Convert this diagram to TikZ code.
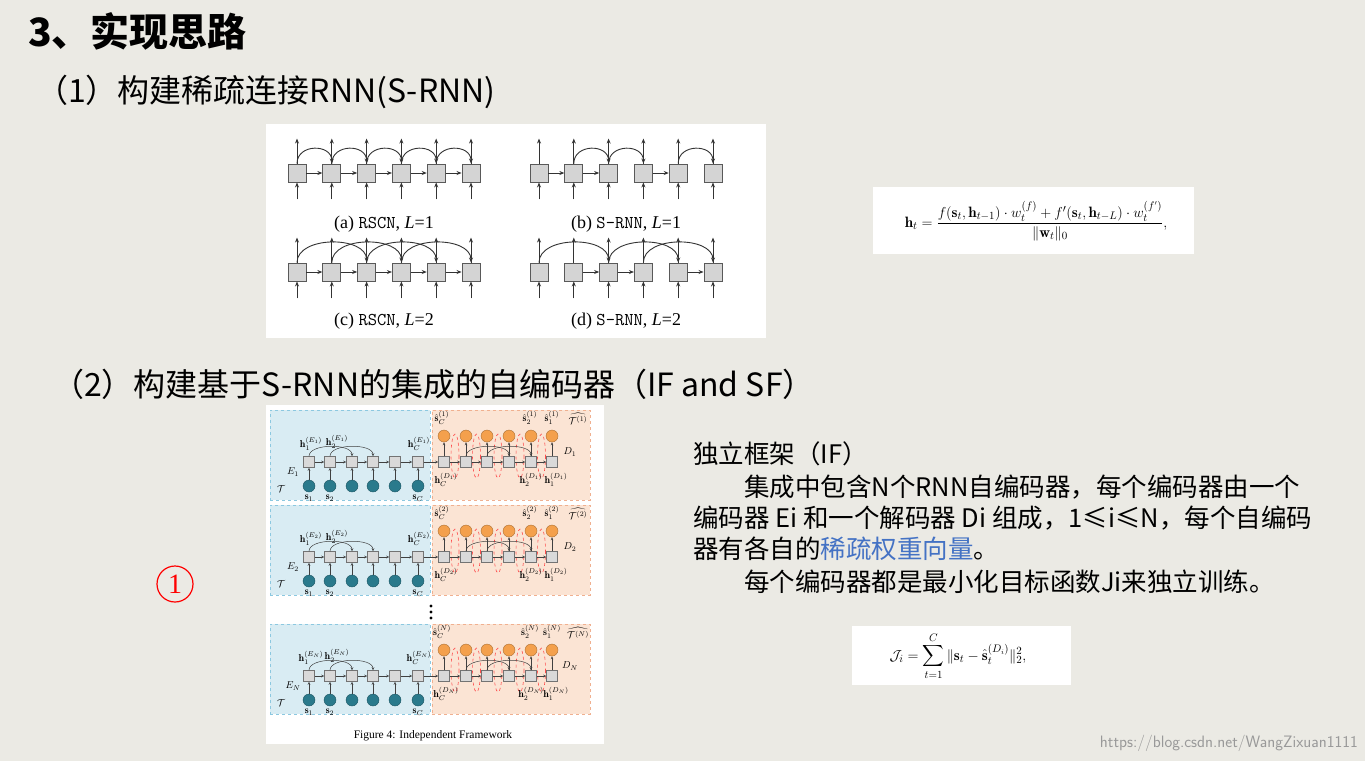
\documentclass[tikz,border=0pt]{standalone}
\usepackage{amsmath,amssymb}
\usepackage{fontspec}
\newfontfamily\cjk{Noto Sans CJK SC}
\newfontfamily\lser{Liberation Serif}
\usetikzlibrary{calc,arrows.meta}
\definecolor{bgc}{HTML}{EBEAE4}
\definecolor{teal2}{HTML}{2A7A8C}
\definecolor{org}{HTML}{F4A04C}
\definecolor{bluebg}{HTML}{D9ECF3}
\definecolor{bluebd}{HTML}{8CC8E0}
\definecolor{orgbg}{HTML}{FBE4D4}
\definecolor{orgbd}{HTML}{F0B090}
\definecolor{lnk}{HTML}{4472C4}
\tikzset{
 gbox/.style={draw=black!65,fill=black!17,minimum size=18pt,inner sep=0pt,line width=0.9pt},
 sbox/.style={draw=black!55,fill=black!15,minimum size=11pt,inner sep=0pt,line width=0.5pt},
 arr/.style={-{Stealth[length=5pt,width=4pt]},line width=0.9pt,black!80},
 sarr/.style={-{Stealth[length=3pt,width=2.5pt]},line width=0.5pt,black!75},
 tcirc/.style={circle,fill=teal2,draw=teal2!70!black,minimum size=12pt,inner sep=0pt},
 ocirc/.style={circle,fill=org,draw=org!70!black,minimum size=12pt,inner sep=0pt},
 lab/.style={font=\fontsize{10}{10}\selectfont,inner sep=0pt},
 cjkt/.style={font=\cjk\fontsize{25.5}{25.5}\selectfont,anchor=west,inner sep=0pt},
 captext/.style={font=\lser\fontsize{18}{18}\selectfont},
}
\newcommand\rnnpanel[6]{%
 \foreach \i in {1,...,6}{
  \node[gbox] (#1\i) at ({#2+34.8*(\i-1)},#3) {};
  \draw[arr] (#1\i.north) -- ++(0,-25);
  \draw[arr] ($(#1\i.south)+(0,17)$) -- (#1\i.south);
 }
 \foreach \a/\b in {#4} \draw[arr] (#1\a) -- (#1\b);
 \foreach \a/\b in {#5} \draw[arr] (#1\a.north) .. controls +(0,-#6) and +(0,-#6) .. (#1\b.north);
}
\newcommand\aerow[3]{%
\begin{scope}[shift={(0,#1)}]
 \node[draw=bluebd,dashed,fill=bluebg,minimum width=160pt,minimum height=90pt,anchor=north west] (bl#2) at (270,410) {};
 \node[draw=orgbd,dashed,fill=orgbg,minimum width=158pt,minimum height=90pt,anchor=north west] (or#2) at (432,410) {};
 \foreach \i/\x in {1/309,2/330,3/352,4/373,5/395,6/418}{
  \node[sbox] (e#2\i) at (\x,462) {};
  \node[tcirc] (s#2\i) at (\x,486) {};
  \draw[sarr] (s#2\i) -- (e#2\i);
 }
 \foreach \i/\x in {1/444,2/466,3/487,4/509,5/531,6/552}{
  \node[sbox] (d#2\i) at (\x,462) {};
  \node[ocirc] (o#2\i) at (\x,436) {};
  \draw[sarr] (d#2\i) -- (o#2\i);
 }
 \foreach \x in {455,476.5,498,520,541.5}
  \draw[red!70,dashed,line width=0.6pt] (\x,456) ellipse (4 and 22);
 \foreach \a/\b in {e#21/e#22,e#22/e#23,e#23/e#24,e#24/e#25,e#25/e#26,e#26/d#21,d#21/d#22,d#22/d#23,d#23/d#24,d#24/d#25,d#25/d#26}
  \draw[sarr] (\a) -- (\b);
 \foreach \a/\b in {e#21/e#23,e#22/e#24,d#22/d#24,d#23/d#25}
  \draw[sarr] (\a.north) .. controls +(0,-13) and +(0,-13) .. (\b.north);
 \node[lab] (la#2) at (311,444) {$\mathbf{h}_1^{(E_{#3})}$};
 \node[lab] (lb#2) at (337,442) {$\mathbf{h}_2^{(E_{#3})}$};
 \node[lab] (lc#2) at (419,444) {$\mathbf{h}_C^{(E_{#3})}$};
 \node[lab] (le#2) at (293,472) {$E_{#3}$};
 \node[lab] (lt#2) at (281,489) {$\mathcal{T}$};
 \node[lab] (ls1#2) at (309,498) {$\mathbf{s}_1$};
 \node[lab] (ls2#2) at (330,498) {$\mathbf{s}_2$};
 \node[lab] (lsc#2) at (418,498) {$\mathbf{s}_C$};
 \node[lab] (lo1#2) at (442,418) {$\hat{\mathbf{s}}_C^{(#3)}$};
 \node[lab] (lo2#2) at (530,418) {$\hat{\mathbf{s}}_2^{(#3)}$};
 \node[lab] (lo3#2) at (552,418) {$\hat{\mathbf{s}}_1^{(#3)}$};
 \node[lab] (lT#2) at (578,419) {$\widehat{\mathcal{T}^{(#3)}}$};
 \node[lab] (lD#2) at (570,452) {$D_{#3}$};
 \node[lab] (ld1#2) at (446,480) {$\mathbf{h}_C^{(D_{#3})}$};
 \node[lab] (ld2#2) at (531,480) {$\mathbf{h}_2^{(D_{#3})}$};
 \node[lab] (ld3#2) at (556,480) {$\mathbf{h}_1^{(D_{#3})}$};
\end{scope}}
\begin{document}
\begin{tikzpicture}[x=1pt,y=-1pt]
\fill[bgc] (0,0) rectangle (1365,761);
\useasboundingbox (0,0) rectangle (1365,761);
\node[anchor=west,inner sep=0pt,font=\cjk\bfseries\fontsize{39}{39}\selectfont] (title) at (28,31) {3、实现思路};
\node[anchor=west,inner sep=0pt,font=\cjk\fontsize{32}{32}\selectfont] (sub1) at (36,92) {（1）构建稀疏连接RNN(S-RNN)};
\node[anchor=west,inner sep=0pt,font=\cjk\fontsize{32}{32}\selectfont] (sub2) at (52,384) {（2）构建基于S-RNN的集成的自编码器（IF and SF）};
% panel 1
\fill[white] (266,124) rectangle (766,338);
\rnnpanel{pa}{297}{173}{1/2,2/3,3/4,4/5,5/6}{1/2,2/3,3/4,4/5,5/6}{20}
\rnnpanel{pb}{539}{173}{1/2,2/3,4/5}{2/3,3/4,5/6}{20}
\rnnpanel{pc}{297}{272}{1/2,2/3,3/4,4/5,5/6}{1/3,2/4,3/5,4/6}{27}
\rnnpanel{pd}{539}{272}{2/3,3/4,5/6}{1/3,3/5,4/6}{27}
\node[captext] (ca) at (384,224) {(a) \texttt{RSCN}, \textit{L}=1};
\node[captext] (cb) at (626,224) {(b) \texttt{S-RNN}, \textit{L}=1};
\node[captext] (cc) at (384,321) {(c) \texttt{RSCN}, \textit{L}=2};
\node[captext] (cd) at (626,321) {(d) \texttt{S-RNN}, \textit{L}=2};
% formula 1
\fill[white] (873,187) rectangle (1194,254);
\node[font=\fontsize{15}{15}\selectfont] (f1) at (1036,221) {$\mathbf{h}_t=\dfrac{f(\mathbf{s}_t,\mathbf{h}_{t-1})\cdot w_t^{(f)}+f'(\mathbf{s}_t,\mathbf{h}_{t-L})\cdot w_t^{(f')}}{\|\mathbf{w}_t\|_0},$};
% panel 2
\fill[white] (266,405) rectangle (604,744);
\aerow{0}{a}{1}
\aerow{95}{b}{2}
\aerow{214}{c}{N}
\foreach \y [count=\k] in {606,612,618} \fill (431,\y) circle (1.6) coordinate (dot\k);
\node[font=\lser\fontsize{11.5}{11.5}\selectfont] (fcap) at (433,736) {Figure 4: Independent Framework};
\node[circle,draw=red,line width=1.2pt,minimum size=36pt,inner sep=0pt,text=red,font=\lser\fontsize{28}{28}\selectfont] (one) at (175,584) {1};
% text
\node[cjkt] (t0) at (693,454) {独立框架（IF）};
\node[cjkt] (t1) at (693,487) {\hspace{2em}集成中包含N个RNN自编码器，每个编码器由一个};
\node[cjkt] (t2) at (693,518) {编码器 Ei 和一个解码器 Di 组成，1≤i≤N，每个自编码};
\node[cjkt] (t3) at (693,549) {器有各自的\textcolor{lnk}{稀疏权重向量}。};
\node[cjkt] (t4) at (693,582) {\hspace{2em}每个编码器都是最小化目标函数Ji来独立训练。};
\fill[white] (852,626) rectangle (1071,685);
\node[font=\fontsize{15}{15}\selectfont] (f2) at (958,656) {$\mathcal{J}_i=\displaystyle\sum_{t=1}^{C}\|\mathbf{s}_t-\hat{\mathbf{s}}_t^{(D_i)}\|_2^2,$};
\node[anchor=east,inner sep=0pt,text=black!40,font=\fontsize{16.5}{16.5}\selectfont\sffamily] (wm) at (1358,743) {https://blog.csdn.net/WangZixuan1111};
\end{tikzpicture}
\end{document}
